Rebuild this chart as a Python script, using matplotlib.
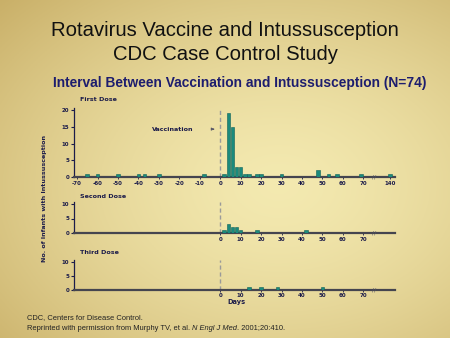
import numpy as np
import matplotlib
matplotlib.use("Agg")
import matplotlib.pyplot as plt

# data (day after dose, number of infants)
first_days = [-65, -60, -50, -40, -37, -30, -8, 2, 4, 6, 8, 10, 12, 14, 18, 20, 30, 48, 53, 57, 69, 140]
first_counts = [1, 1, 1, 1, 1, 1, 1, 1, 19, 15, 3, 3, 1, 1, 1, 1, 1, 2, 1, 1, 1, 1]
second_days = [2, 4, 6, 8, 10, 18, 42]
second_counts = [1, 3, 2, 2, 1, 1, 1]
third_days = [14, 20, 28, 50]
third_counts = [1, 1, 1, 1]

first_ticks = [-70, -60, -50, -40, -30, -20, -10, 0, 10, 20, 30, 40, 50, 60, 70, 140]
later_ticks = [0, 10, 20, 30, 40, 50, 60, 70]

BREAK_AT = 75.5      # where the axis is broken
FAR_POS = 83         # where day 140 is drawn

W, H = 450, 338
BAR = "#1b8a7c"
EDGE = "#0f6157"
INK = "#1c1c4a"
AXC = "#45454f"


def pos(d):
    d = np.asarray(d, dtype=float)
    return np.where(d > 100, FAR_POS, d)


def px_axes(fig, left, right, zero_y, top_y):
    return fig.add_axes([left / W, 1 - zero_y / H, (right - left) / W, (zero_y - top_y) / H])


fig = plt.figure(figsize=(4.5, 3.38), dpi=100)

# background gradient
bg = fig.add_axes([0, 0, 1, 1])
yy, xx = np.mgrid[0:1:200j, 0:1:260j]
r = np.sqrt(((xx - 0.62) / 0.85) ** 2 + ((yy - 0.55) / 0.8) ** 2)
t = np.clip(r, 0, 1) ** 1.5
light = np.array([0.955, 0.915, 0.69])
dark = np.array([0.79, 0.69, 0.41])
img = light * (1 - t[..., None]) + dark * t[..., None]
bg.imshow(img, aspect="auto", extent=[0, 1, 0, 1])
bg.set_axis_off()

fig.text(225 / W, 1 - 30 / H, "Rotavirus Vaccine and Intussusception", ha="center", va="center",
         fontsize=14.6, family="Liberation Sans", color="#111111")
fig.text(225 / W, 1 - 55 / H, "CDC Case Control Study", ha="center", va="center",
         fontsize=14.6, family="Liberation Sans", color="#111111")
fig.text(240 / W, 1 - 83 / H, "Interval Between Vaccination and Intussusception (N=74)", ha="center",
         va="center", fontsize=9.9, family="Liberation Sans", weight="bold", color="#1d1d6e")

panels = [
    (first_days, first_counts, 177, 3.35, 20.6, [0, 5, 10, 15, 20], first_ticks, "First Dose", 100),
    (second_days, second_counts, 233, 2.9, 10.6, [0, 5, 10], later_ticks, "Second Dose", 196),
    (third_days, third_counts, 289.5, 2.8, 10.6, [0, 5, 10], later_ticks, "Third Dose", 252),
]

for days, counts, zero_y, scale, ymax, yt, xt, name, name_y in panels:
    ax = px_axes(fig, 74, 395, zero_y, zero_y - ymax * scale)
    ax.patch.set_alpha(0)
    ax.set_xlim(-71.5, 85.5)
    ax.set_ylim(0, ymax)
    ax.bar(pos(days), counts, width=1.8, color=BAR, edgecolor=EDGE, linewidth=0.4, zorder=3)
    ax.axvline(0, color="#9a9a9a", linestyle=(0, (3, 2)), linewidth=1.0, zorder=1)
    for s in ["top", "right"]:
        ax.spines[s].set_visible(False)
    ax.spines["left"].set_color(INK)
    ax.spines["left"].set_linewidth(0.9)
    ax.spines["left"].set_bounds(0, ymax)
    ax.spines["bottom"].set_color(AXC)
    ax.spines["bottom"].set_linewidth(1.6)
    ax.set_yticks(yt)
    ax.set_xticks(pos(xt))
    ax.set_xticklabels([str(v) for v in xt])
    ax.tick_params(axis="y", direction="out", length=2.5, width=0.8, color=INK, pad=1,
                   labelsize=4, labelcolor=INK)
    ax.tick_params(axis="x", direction="out", length=1.5, width=0.6, color=INK, pad=1.2,
                   labelsize=4, labelcolor=INK)
    for lab in ax.get_xticklabels() + ax.get_yticklabels():
        lab.set_fontweight("bold")
    ax.text(BREAK_AT, 0, "//", ha="center", va="center", fontsize=4.5, color="#555566",
            rotation=0, zorder=4)
    fig.text(80 / W, 1 - name_y / H, name, ha="left", va="center", fontsize=4.6,
             weight="bold", color=INK)
    if name == "First Dose":
        ax.annotate("Vaccination", xy=(-1.5, 14.3), xytext=(-23, 14.3), ha="center", va="center",
                    fontsize=4.6, weight="bold", color=INK,
                    arrowprops=dict(arrowstyle="-|>", color="#555566", lw=0.6,
                                    mutation_scale=4, shrinkA=12))

fig.text(45 / W, 1 - 198 / H, "No. of Infants with Intussusception", rotation=90, ha="center",
         va="center", fontsize=4.6, weight="bold", color=INK)
fig.text(236 / W, 1 - 302 / H, "Days", ha="center", va="center", fontsize=4.8,
         weight="bold", color=INK)

fn = dict(fontsize=5.4, family="Liberation Sans", color="#222222", va="center")
fig.text(27 / W, 1 - 318 / H, "CDC, Centers for Disease Control.", ha="left", **fn)
t1 = fig.text(27 / W, 1 - 328 / H, "Reprinted with permission from Murphy TV, et al. ", ha="left", **fn)
fig.canvas.draw()
rend = fig.canvas.get_renderer()
x1 = t1.get_window_extent(rend).x1
t2 = fig.text(x1 / W, 1 - 328 / H, "N Engl J Med", ha="left", style="italic", **fn)
x2 = t2.get_window_extent(rend).x1
fig.text(x2 / W, 1 - 328 / H, ". 2001;20:410.", ha="left", **fn)

fig.savefig("out.png", dpi=100)
